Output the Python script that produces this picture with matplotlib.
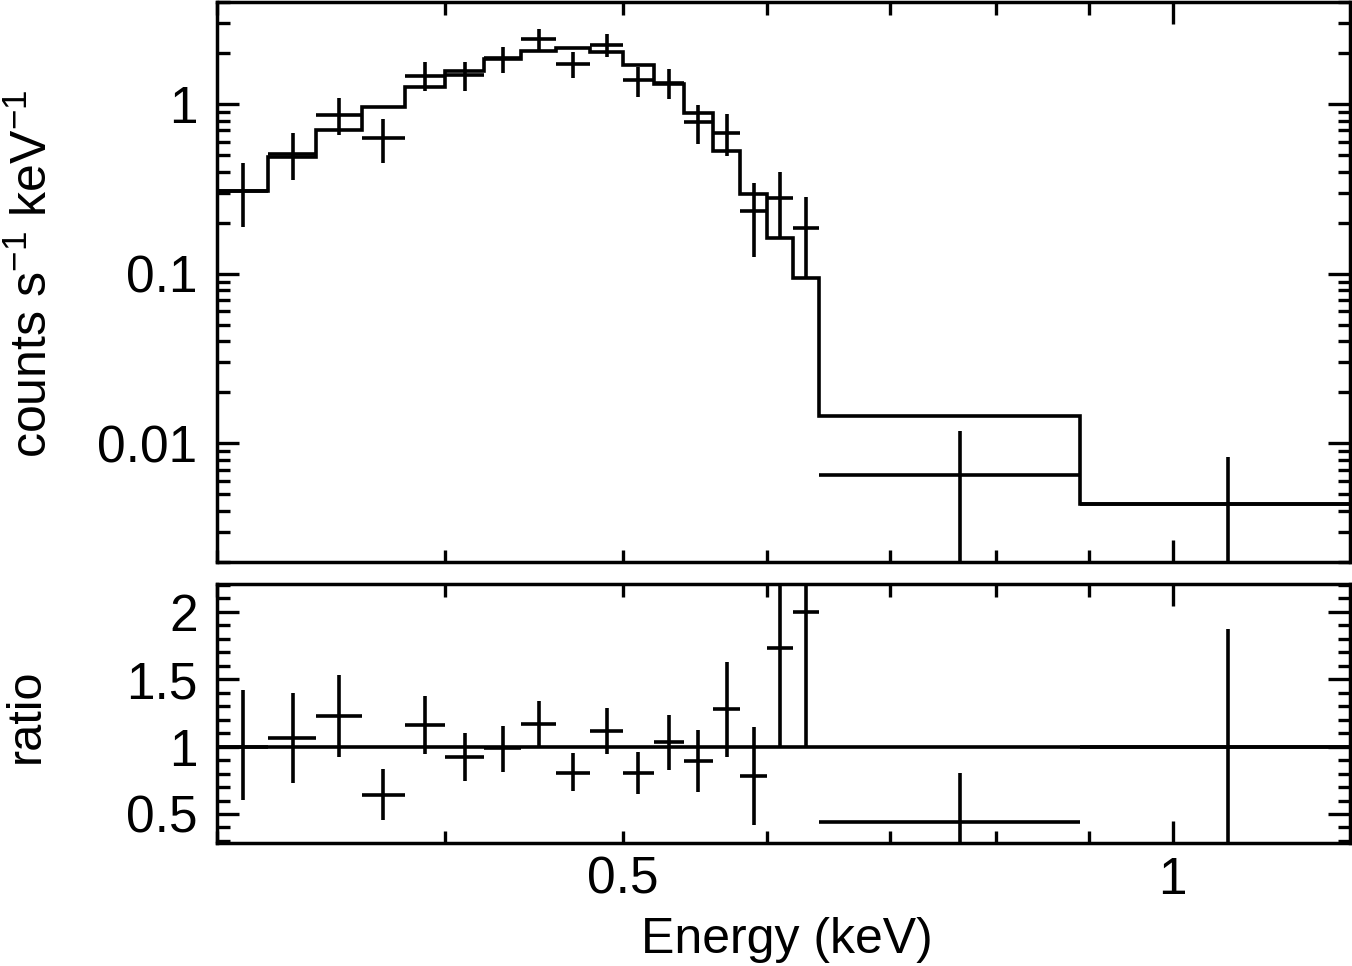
import numpy as np
import matplotlib
matplotlib.use('Agg')
import matplotlib.pyplot as plt
from matplotlib.ticker import FixedLocator, FuncFormatter, NullFormatter, MultipleLocator

plt.rcParams['font.family'] = ['Liberation Sans', 'DejaVu Sans']
plt.rcParams['mathtext.fontset'] = 'custom'
plt.rcParams['mathtext.rm'] = 'Liberation Sans'

# bin edges in keV
edges = [0.30, 0.32, 0.34, 0.36, 0.38, 0.40, 0.42, 0.44, 0.46, 0.48, 0.50,
         0.52, 0.54, 0.56, 0.58, 0.60, 0.62, 0.64, 0.89, 1.255]

# model (counts s-1 keV-1)
model = [0.307, 0.487, 0.703, 0.96, 1.26, 1.57, 1.84, 2.05, 2.14, 2.03, 1.71,
         1.32, 0.881, 0.53, 0.297, 0.163, 0.095, 0.0145, 0.0044]

# data and error range
data = [0.307, 0.507, 0.861, 0.630, 1.46, 1.48, 1.87, 2.42, 1.72, 2.23, 1.386,
        1.33, 0.787, 0.677, 0.235, 0.280, 0.186, 0.00648, 0.0044]
data_hi = [0.449, 0.675, 1.085, 0.816, 1.77, 1.77, 2.17, 2.77, 2.03, 2.59, 1.65,
           1.61, 0.986, 0.873, 0.342, 0.397, 0.283, 0.0119, 0.00827]
data_lo = [0.188, 0.356, 0.656, 0.449, 1.19, 1.19, 1.52, 2.08, 1.42, 1.89, 1.10,
           1.07, 0.581, 0.494, 0.125, 0.164, 0.095, 1e-5, 1e-5]

# ratio panel
ratio = [1.0, 1.067, 1.23, 0.642, 1.16, 0.926, 0.988, 1.168, 0.807, 1.116, 0.807,
         1.032, 0.894, 1.277, 0.783, 1.733, 1.996, 0.437, 1.0]
ratio_hi = [1.42, 1.396, 1.53, 0.833, 1.376, 1.104, 1.153, 1.34, 0.95, 1.284, 0.963,
            1.235, 1.124, 1.63, 1.148, 2.5, 3.0, 0.807, 1.87]
ratio_lo = [0.605, 0.733, 0.926, 0.457, 0.944, 0.748, 0.815, 1.005, 0.667, 0.944, 0.647,
            0.827, 0.662, 0.926, 0.42, 1.0, 0.99, 0.0, 0.0]

e = np.array(edges)
centres = (e[:-1] + e[1:]) / 2
halfw = (e[1:] - e[:-1]) / 2

W, H = 1352, 966
fig = plt.figure(figsize=(W / 100, H / 100), dpi=100)
ax1 = fig.add_axes([217 / W, 1 - 562 / H, 1133 / W, 560 / H])
ax2 = fig.add_axes([217 / W, 1 - 843 / H, 1133 / W, 259 / H])

lw = 2.6
ax1.stairs(model, edges, baseline=None, color='k', lw=lw)
d = np.array(data)
ax1.errorbar(centres, d, xerr=halfw,
             yerr=[d - np.array(data_lo), np.array(data_hi) - d],
             fmt='none', ecolor='k', elinewidth=lw, capsize=0)
ax1.set_yscale('log')
ax1.set_ylim(0.002, 4.0)

r = np.array(ratio)
ax2.axhline(1.0, color='k', lw=lw)
ax2.errorbar(centres, r, xerr=halfw,
             yerr=[r - np.array(ratio_lo), np.array(ratio_hi) - r],
             fmt='none', ecolor='k', elinewidth=lw, capsize=0)
ax2.set_ylim(0.285, 2.205)
ax2.yaxis.set_major_locator(MultipleLocator(0.5))
ax2.yaxis.set_minor_locator(MultipleLocator(0.1))
ax2.yaxis.set_major_formatter(FuncFormatter(lambda v, p: '%g' % v))

minor_x = [0.3, 0.4, 0.5, 0.6, 0.7, 0.8, 0.9]
for ax in (ax1, ax2):
    ax.set_xscale('log')
    ax.set_xlim(0.3, 1.25)
    ax.xaxis.set_major_locator(FixedLocator([1.0]))
    ax.xaxis.set_minor_locator(FixedLocator(minor_x))
    ax.xaxis.set_major_formatter(FuncFormatter(lambda v, p: '1'))
    ax.xaxis.set_minor_formatter(FuncFormatter(lambda v, p: '0.5' if abs(v - 0.5) < 1e-6 else ''))
    ax.tick_params(which='both', direction='in', top=True, right=True,
                   width=2.4, labelsize=37, pad=14)
    ax.tick_params(which='major', length=16)
    ax.tick_params(which='minor', length=9)
    for s in ax.spines.values():
        s.set_linewidth(2.5)

ax1.tick_params(axis='x', which='both', labelbottom=False)
ax1.yaxis.set_major_formatter(FuncFormatter(lambda v, p: '%g' % v))
ax1.yaxis.set_minor_formatter(NullFormatter())
ax2.tick_params(axis='x', which='both', pad=9)

fig.text(33 / W, 1 - 274 / H, r'counts s$^{-1}$ keV$^{-1}$', rotation=90,
         ha='center', va='center', fontsize=36)
fig.text(26 / W, 1 - 716 / H, 'ratio', rotation=90,
         ha='center', va='center', fontsize=35)
fig.text(787 / W, 1 - 940 / H, 'Energy (keV)', ha='center', va='center', fontsize=36)

fig.savefig('out.png', dpi=100)
